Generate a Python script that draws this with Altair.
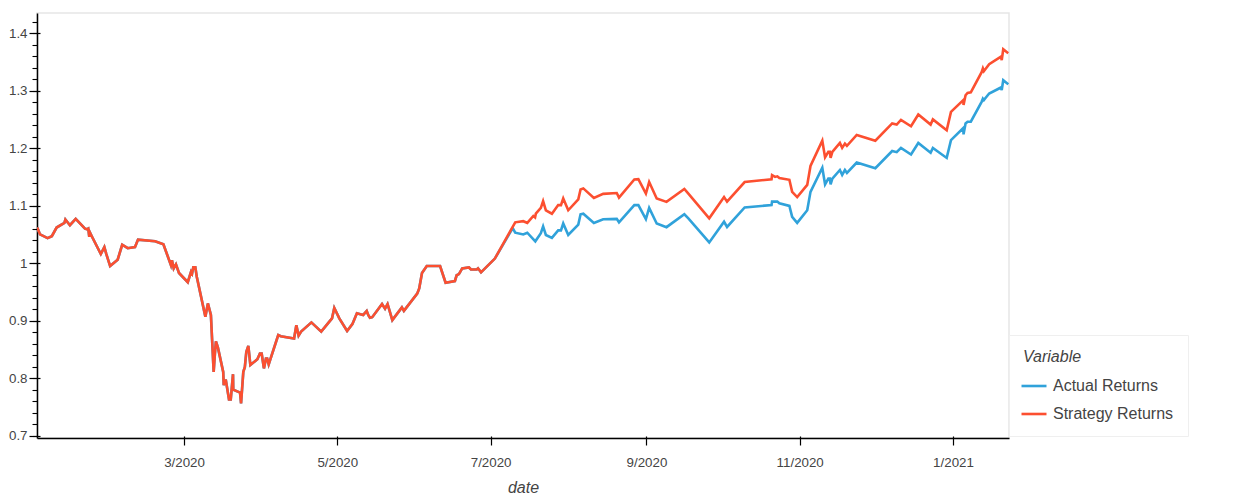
import altair as alt
import pandas as pd

# Days since 2020-01-01 and values
shared_days = [1.6, 2.7, 5.7, 7.4, 9.3, 12.4, 12.8, 14.6, 16.9, 20.6, 21.5, 21.9, 22.3, 22.6, 23.5, 26.9, 28.3, 29, 30.6,
               33.6, 35.4, 37.6, 40.5, 41.7, 48.5, 51.8, 54.8, 55.2, 55.9, 56.8, 58, 61.5, 62.8, 63.2, 63.7, 64.5, 65.1,
               68.5, 69.5, 70.7, 71.8, 72.3, 72.7, 73.5, 75.6, 75.8, 76.6, 77.9, 78.6, 79.5, 79.6, 82.3, 82.7, 83.6, 84.2,
               84.8, 85.6, 86.4, 89.2, 90.2, 90.9, 91.8, 92.6, 93.1, 93.7, 97.5, 98.5, 103.8, 104.7, 105.6, 106.6, 110.7,
               114.6, 118.9, 119.8, 121.8, 124.9, 127, 128.8, 131.3, 132.7, 133.3, 134, 134.9, 138.8, 140, 141, 142.9,
               146.7, 147.5, 152.8, 153.6, 154.7, 156.6, 161.9, 164.1, 167.8, 168.5, 169.4, 170.7, 173.4, 174.2, 176.5,
               177, 178.2, 183.7]
shared_values = [1.062, 1.050, 1.0435, 1.047, 1.062, 1.070, 1.076, 1.066, 1.077, 1.060, 1.059, 1.060, 1.046, 1.053, 1.045,
                 1.016, 1.028, 1.017, 0.995, 1.006, 1.032, 1.026, 1.028, 1.041, 1.038, 1.033, 0.9965, 1.005, 0.991, 0.998,
                 0.983, 0.967, 0.985, 0.982, 0.993, 0.993, 0.976, 0.907, 0.930, 0.910, 0.811, 0.843, 0.864, 0.853, 0.811,
                 0.788, 0.798, 0.763, 0.763, 0.807, 0.780, 0.775, 0.756, 0.811, 0.819, 0.846, 0.856, 0.823, 0.833, 0.843,
                 0.843, 0.817, 0.834, 0.834, 0.824, 0.875, 0.873, 0.869, 0.892, 0.874, 0.881, 0.897, 0.881, 0.904, 0.922,
                 0.904, 0.882, 0.894, 0.913, 0.910, 0.917, 0.910, 0.905, 0.906, 0.929, 0.921, 0.929, 0.901, 0.923, 0.917,
                 0.947, 0.956, 0.983, 0.995, 0.995, 0.966, 0.969, 0.979, 0.981, 0.991, 0.9925, 0.989, 0.989, 0.991, 0.984,
                 1.008]

strategy_days = [191.8, 195, 196.6, 199, 199.7, 200, 202, 202.9, 204, 206.4, 208.9, 210, 210.9, 212.9, 216.9, 217.8, 218.9,
                 223.1, 226.8, 232.2, 233.1, 239.2, 240.8, 243.8, 245.1, 248.1, 252, 259.1, 260.7, 269, 274.9, 276.1,
                 283.1, 293.8, 294, 295.2, 296.1, 296.9, 300.9, 302, 304, 308, 309.3, 314, 315.1, 316.4, 317, 317.3, 318,
                 321, 321.9, 323, 323.8, 327.7, 335.1, 341.8, 343.6, 345.3, 349.3, 352.2, 357.1, 358, 363.5, 365.2, 370.1,
                 370.2, 371, 371.8, 373.1, 377.4, 377.9, 378.3, 379.1, 380.4, 385.1, 385.4, 386, 388]
strategy_values = [1.071, 1.073, 1.070, 1.082, 1.0795, 1.086, 1.096, 1.108, 1.092, 1.086, 1.101, 1.101, 1.1125, 1.092, 1.111,
                   1.128, 1.130, 1.1135, 1.1205, 1.122, 1.114, 1.1455, 1.146, 1.121, 1.141, 1.1125, 1.1066, 1.129, 1.121,
                   1.078, 1.115, 1.107, 1.141, 1.146, 1.153, 1.150, 1.151, 1.148, 1.145, 1.124, 1.115, 1.136, 1.169, 1.213,
                   1.184, 1.1935, 1.1935, 1.183, 1.1935, 1.209, 1.2005, 1.208, 1.204, 1.223, 1.213, 1.243, 1.241, 1.249,
                   1.238, 1.2586, 1.241, 1.250, 1.231, 1.263, 1.2835, 1.275, 1.292, 1.296, 1.297, 1.332, 1.3386, 1.334,
                   1.3386, 1.346, 1.359, 1.353, 1.372, 1.365]

actual_days = [190.8, 191.8, 195, 196.6, 199.8, 202, 202.9, 204, 206.4, 208.9, 210, 210.9, 212.9, 216.9, 217.8, 218.9, 223.1,
               226.8, 232.2, 233.1, 239.2, 240.8, 243.8, 245.1, 248.1, 252, 259.1, 260.7, 269, 274.9, 276.1, 283.1, 293.8,
               294, 296.1, 296.9, 300.9, 302, 304, 308, 309.3, 314, 315.1, 316.4, 317, 317.3, 318, 321, 321.9, 323, 323.8,
               327.7, 335.1, 341.8, 343.6, 345.3, 349.3, 352.2, 357.1, 358, 363.5, 365.2, 370.1, 370.2, 371, 371.8, 373.1,
               377.4, 377.9, 378.3, 379.1, 380.4, 385.1, 385.4, 386, 388]
actual_values = [1.061, 1.053, 1.050, 1.053, 1.038, 1.052, 1.064, 1.049, 1.044, 1.057, 1.057, 1.069, 1.049, 1.067, 1.085,
                 1.086, 1.070, 1.0765, 1.077, 1.071, 1.101, 1.101, 1.0765, 1.096, 1.069, 1.0626, 1.085, 1.078, 1.036, 1.072,
                 1.063, 1.097, 1.101, 1.107, 1.107, 1.104, 1.0996, 1.0805, 1.070, 1.092, 1.124, 1.166, 1.137, 1.147, 1.147,
                 1.137, 1.147, 1.162, 1.1535, 1.162, 1.157, 1.175, 1.165, 1.195, 1.193, 1.2005, 1.189, 1.209, 1.192, 1.2005,
                 1.183, 1.214, 1.235, 1.224, 1.243, 1.246, 1.246, 1.2805, 1.286, 1.2835, 1.288, 1.295, 1.3055, 1.301, 1.318,
                 1.311]

series_names = ["Actual Returns", "Strategy Returns"]
series_colors = ["#30a2da", "#fc4f30"]
major_y = [0.7, 0.8, 0.9, 1.0, 1.1, 1.2, 1.3, 1.4]
minor_y = [0.70, 0.72, 0.74, 0.76, 0.78, 0.80, 0.82, 0.84, 0.86, 0.88, 0.90, 0.92, 0.94, 0.96, 0.98, 1.00, 1.02, 1.04,
           1.06, 1.08, 1.10, 1.12, 1.14, 1.16, 1.18, 1.20, 1.22, 1.24, 1.26, 1.28, 1.30, 1.32, 1.34, 1.36, 1.38, 1.40, 1.42]
x_ticks = [alt.DateTime(year=y, month=m, date=1, utc=True)
           for y, m in [(2020, 3), (2020, 5), (2020, 7), (2020, 9), (2020, 11), (2021, 1)]]


def frame(days, values, name):
    stamps = pd.Timestamp("2020-01-01") + pd.to_timedelta(days, unit="D")
    return pd.DataFrame({"date": stamps.strftime("%Y-%m-%dT%H:%M:%SZ"), "value": values, "Variable": name})


df = pd.concat([
    frame(shared_days + actual_days, shared_values + actual_values, series_names[0]),
    frame(shared_days + strategy_days, shared_values + strategy_values, series_names[1]),
])

x_scale = alt.Scale(type="utc", domain=["2020-01-02T12:00:00Z", "2021-01-23T07:00:00Z"])
y_scale = alt.Scale(domain=[0.696, 1.435], nice=False, zero=False)
FONT = "Liberation Sans"
TEXT = "#444444"

lines = alt.Chart(df).mark_line(strokeWidth=2.6, clip=True, interpolate="linear").encode(
    x=alt.X("date:T", scale=x_scale, title="date", axis=alt.Axis(
        values=x_ticks, labelExpr="utcFormat(datum.value, '%-m/%Y')", grid=False, domain=False, offset=-2, tickSize=9,
        tickColor="#000000", tickWidth=1.2, labelFont=FONT, labelFontSize=13.33, labelColor=TEXT, labelPadding=10,
        titleFont=FONT, titleFontSize=16, titleFontStyle="italic", titleFontWeight="normal", titleColor=TEXT,
        titlePadding=11, orient="bottom")),
    y=alt.Y("value:Q", scale=y_scale, title=None, axis=alt.Axis(
        values=major_y, labelExpr="datum.value == 1 ? '1' : format(datum.value, '.1f')", grid=False, domain=False,
        offset=-3, tickSize=11, tickColor="#000000", tickWidth=1.2, labelFont=FONT, labelFontSize=13.33,
        labelColor=TEXT, labelPadding=2, orient="left")),
    color=alt.Color("Variable:N", scale=alt.Scale(domain=series_names, range=series_colors), legend=alt.Legend(
        orient="none", legendX=972, legendY=322, symbolType="stroke", symbolSize=625, symbolStrokeWidth=2.6,
        symbolOffset=-3, labelFont=FONT, labelFontSize=16, labelColor=TEXT, labelOffset=5, titleFont=FONT,
        titleFontSize=16, titleFontStyle="italic", titleFontWeight="normal", titleColor=TEXT, titlePadding=7,
        rowPadding=6, padding=14, strokeColor="#efefef", fillColor="#ffffff")),
    detail="Variable:N",
)

frame_axes = alt.Chart(df).mark_line(opacity=0).encode(
    x=alt.X("date:T", scale=x_scale, title=None, axis=alt.Axis(
        values=x_ticks, labels=False, ticks=False, grid=False, domainColor="#000000", domainWidth=1.5, orient="bottom")),
    y=alt.Y("value:Q", scale=y_scale, title=None, axis=alt.Axis(
        values=minor_y, labels=False, grid=False, domainColor="#000000", domainWidth=1.5, tickColor="#000000",
        tickWidth=1.1, tickSize=5, orient="left")),
    detail="Variable:N",
)

chart = alt.layer(lines, frame_axes).resolve_axis(x="independent", y="independent").properties(
    width=972,
    height=425,
    autosize=alt.AutoSizeParams(type="none"),
    padding={"left": 29, "top": 5, "right": 200, "bottom": 59},
).configure_view(stroke="#e6e6e6", strokeWidth=1.5)

chart.save("out.html", embed_options={"renderer": "svg", "actions": False})
